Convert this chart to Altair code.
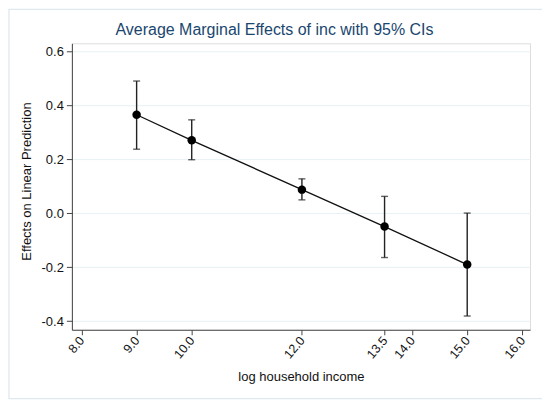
import altair as alt
import pandas as pd

income = [9.0, 10.0, 12.0, 13.5, 15.0]
effect = [0.366, 0.271, 0.088, -0.049, -0.190]
ci_low = [0.238, 0.199, 0.050, -0.164, -0.381]
ci_high = [0.491, 0.347, 0.128, 0.063, 0.001]
x_ticks = [8.0, 9.0, 10.0, 12.0, 13.5, 14.0, 15.0, 16.0]
y_ticks = [-0.4, -0.2, 0.0, 0.2, 0.4, 0.6]

df = pd.DataFrame({"income": income, "effect": effect, "lo": ci_low, "hi": ci_high})

FONT = "Liberation Sans"
AX = "#444444"

xscale = alt.Scale(domain=[7.825, 16.14], nice=False, zero=False)
yscale = alt.Scale(domain=[-0.432, 0.631], nice=False, zero=False)

xaxis = alt.Axis(
    values=x_ticks, format=".1f", labelAngle=310, labelAlign="right", labelBaseline="middle",
    labelFontSize=12.5, labelFont=FONT, labelColor="#111111", labelPadding=3,
    tickSize=5, tickColor=AX, domainColor=AX, grid=False,
    title="log household income", titleFont=FONT, titleFontSize=13, titleFontWeight="normal",
    titleColor="#111111", titleBaseline="alphabetic", titleY=51,
)
yaxis = alt.Axis(
    values=y_ticks, labelExpr="replace(format(datum.value, '.1f'), '\u2212', '-')",
    labelFontSize=13, labelFont=FONT, labelColor="#111111", labelPadding=3,
    tickSize=5.5, tickColor=AX, domainColor=AX,
    grid=True, gridColor="#e8f1f4", gridWidth=1,
    title="Effects on Linear Prediction", titleFont=FONT, titleFontSize=13, titleFontWeight="normal",
    titleColor="#111111", titleBaseline="middle", titleX=-45, titleY=138, titleAngle=270,
)

base = alt.Chart(df)

rules = base.mark_rule(color="#222222", strokeWidth=1.4).encode(
    x=alt.X("income:Q", scale=xscale, axis=xaxis),
    y=alt.Y("lo:Q", scale=yscale, axis=yaxis),
    y2="hi:Q",
)
caps_hi = base.mark_tick(color="#222222", orient="horizontal", size=7, thickness=1.4).encode(
    x=alt.X("income:Q", scale=xscale), y=alt.Y("hi:Q", scale=yscale)
)
caps_lo = base.mark_tick(color="#222222", orient="horizontal", size=7, thickness=1.4).encode(
    x=alt.X("income:Q", scale=xscale), y=alt.Y("lo:Q", scale=yscale)
)
line = base.mark_line(color="#111111", strokeWidth=1.3).encode(
    x=alt.X("income:Q", scale=xscale), y=alt.Y("effect:Q", scale=yscale)
)
pts = base.mark_circle(color="#000000", opacity=1, size=72).encode(
    x=alt.X("income:Q", scale=xscale), y=alt.Y("effect:Q", scale=yscale)
)

frame = alt.Chart(pd.DataFrame({"a": [0]})).mark_rect(
    fill=None, stroke="#dde9ee", strokeWidth=1.3
).encode(
    x=alt.value(-63), x2=alt.value(473), y=alt.value(-34), y2=alt.value(356)
)

chart = alt.layer(frame, rules, caps_hi, caps_lo, line, pts).properties(
    width=459,
    height=287,
    autosize="none",
    padding={"left": 64, "top": 35, "right": 12, "bottom": 72},
    title=alt.TitleParams(
        "Average Marginal Effects of inc with 95% CIs",
        font=FONT, fontSize=16, fontWeight="normal", color="#1a476f",
        anchor="middle", baseline="alphabetic", offset=6, dx=-26.5, dy=48,
    ),
).configure_view(stroke=None).configure(background="white")

chart.save("out.html", embed_options={"renderer": "svg", "actions": False})
